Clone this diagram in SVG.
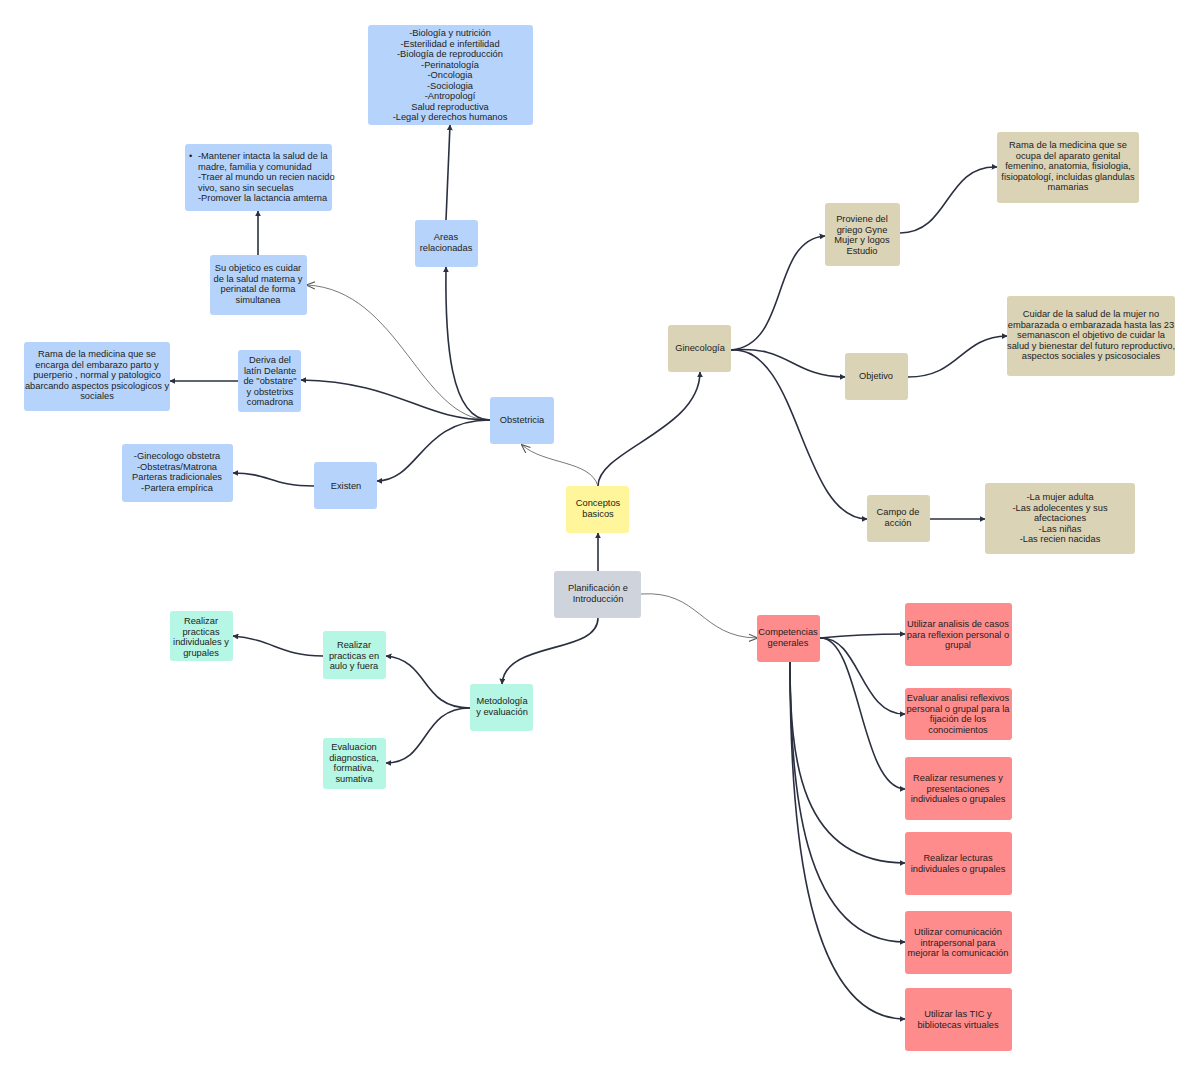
<svg xmlns="http://www.w3.org/2000/svg" width="1200" height="1076" viewBox="0 0 1200 1076">
<style>
text{font-family:"Liberation Sans",Arial,sans-serif;font-size:9.3px;fill:#222;text-anchor:middle}
.l{text-anchor:start}
.b{fill:#b6d4fb}.t{fill:#dbd3b5}.y{fill:#fff59a}.g{fill:#cfd4dc}.c{fill:#b6f6e4}.r{fill:#ff8c8c}
rect{rx:3}
.e{fill:none;stroke:#2b3040;stroke-width:1.6;marker-end:url(#a)}
.f{fill:none;stroke:#555;stroke-width:0.8;marker-end:url(#a2)}
</style>
<defs>
<marker id="a" viewBox="0 0 10 10" refX="9" refY="5" markerWidth="6" markerHeight="6" orient="auto-start-reverse" markerUnits="userSpaceOnUse"><path d="M0,0L10,5L0,10z" fill="#2b3040"/></marker>
<marker id="a2" viewBox="0 0 10 10" refX="9" refY="5" markerWidth="9" markerHeight="9" orient="auto" markerUnits="userSpaceOnUse"><path d="M0,1L10,5L0,9" fill="none" stroke="#555" stroke-width="1.2"/></marker>
</defs>
<rect width="1200" height="1076" fill="#fff" rx="0"/>
<g id="connectors">
<path class="e" d="M598,486C598,450 700,430 700,372"/>
<path class="f" d="M598,486C590,460 545,465 522,445"/>
<path class="e" d="M598,571L598,533"/>
<path class="f" d="M641,594C700,590 700,637 757,638"/>
<path class="e" d="M598,618C598,655 505,640 502,684"/>
<path class="e" d="M490,420C450,420 445,340 446,267"/>
<path class="e" d="M446,220L450,125"/>
<path class="f" d="M490,420C420,420 400,290 307,285"/>
<path class="e" d="M258,255L258,211"/>
<path class="e" d="M490,420C420,420 400,382 301,380"/>
<path class="e" d="M238,381L170,381"/>
<path class="e" d="M490,420C420,420 420,480 377,481"/>
<path class="e" d="M314,486C270,486 270,473 233,473"/>
<path class="e" d="M731,350C790,345 770,240 825,236"/>
<path class="e" d="M900,233C950,233 945,165 997,167"/>
<path class="e" d="M731,350C790,345 790,376 845,377"/>
<path class="e" d="M908,377C960,377 960,337 1007,336"/>
<path class="e" d="M731,350C800,345 800,518 867,519"/>
<path class="e" d="M930,519L985,519"/>
<path class="e" d="M820,638C850,635 870,634 905,634"/>
<path class="e" d="M820,638C860,636 860,715 905,714"/>
<path class="e" d="M820,638C860,636 860,788 905,789"/>
<path class="e" d="M790,662C790,760 800,862 905,863"/>
<path class="e" d="M790,662C790,780 800,942 905,942"/>
<path class="e" d="M790,662C790,800 800,1019 905,1019"/>
<path class="e" d="M470,708C420,708 430,660 386,656"/>
<path class="e" d="M323,656C280,656 275,640 233,636"/>
<path class="e" d="M470,708C420,708 430,763 386,763"/>
</g>
<g id="bio"><rect class="b" x="368" y="25" width="165" height="100"/><text x="450" y="36">-Biología y nutrición</text><text x="450" y="46.5">-Esterilidad e infertilidad</text><text x="450" y="57">-Biología de reproducción</text><text x="450" y="67.5">-Perinatología</text><text x="450" y="78">-Oncologia</text><text x="450" y="88.5">-Sociologia</text><text x="450" y="99">-Antropologí</text><text x="450" y="109.5">Salud reproductiva</text><text x="450" y="120">-Legal y derechos humanos</text></g>
<g id="mantener"><rect class="b" x="185" y="144" width="147" height="67"/><text class="l" x="189" y="159">•</text><text class="l" x="198" y="159">-Mantener intacta la salud de la</text><text class="l" x="198" y="169.5">madre, familia y comunidad</text><text class="l" x="198" y="180">-Traer al mundo un recien nacido</text><text class="l" x="198" y="190.5">vivo, sano sin secuelas</text><text class="l" x="198" y="201">-Promover la lactancia amterna</text></g>
<g id="areas"><rect class="b" x="415" y="220" width="63" height="47"/><text x="446" y="240">Areas</text><text x="446" y="250.5">relacionadas</text></g>
<g id="suobj"><rect class="b" x="210" y="255" width="97" height="60"/><text x="258" y="271">Su objetico es cuidar</text><text x="258" y="281.5">de la salud materna y</text><text x="258" y="292">perinatal de forma</text><text x="258" y="302.5">simultanea</text></g>
<g id="ramaL"><rect class="b" x="24" y="342" width="146" height="69"/><text x="97" y="357">Rama de la medicina que se</text><text x="97" y="367.5">encarga del embarazo parto y</text><text x="97" y="378">puerperio , normal y patologico</text><text x="97" y="388.5">abarcando aspectos psicologicos y</text><text x="97" y="399">sociales</text></g>
<g id="deriva"><rect class="b" x="238" y="350" width="63" height="62"/><text x="270" y="363">Deriva del</text><text x="270" y="373.5">latín Delante</text><text x="270" y="384">de "obstatre"</text><text x="270" y="394.5">y obstetrixs</text><text x="270" y="405">comadrona</text></g>
<g id="gineco"><rect class="b" x="122" y="444" width="111" height="58"/><text x="177" y="459">-Ginecologo obstetra</text><text x="177" y="469.5">-Obstetras/Matrona</text><text x="177" y="480">Parteras tradicionales</text><text x="177" y="490.5">-Partera empírica</text></g>
<g id="existen"><rect class="b" x="314" y="462" width="63" height="47"/><text x="346" y="489">Existen</text></g>
<g id="obst"><rect class="b" x="490" y="397" width="64" height="47"/><text x="522" y="423">Obstetricia</text></g>
<g id="conceptos"><rect class="y" x="566" y="486" width="63" height="47"/><text x="598" y="506">Conceptos</text><text x="598" y="516.5">basicos</text></g>
<g id="gine"><rect class="t" x="668" y="325" width="63" height="47"/><text x="700" y="351">Ginecología</text></g>
<g id="proviene"><rect class="t" x="825" y="203" width="75" height="63"/><text x="862" y="222">Proviene del</text><text x="862" y="232.5">griego Gyne</text><text x="862" y="243">Mujer y logos</text><text x="862" y="253.5">Estudio</text></g>
<g id="ramaR"><rect class="t" x="997" y="132" width="142" height="71"/><text x="1068" y="148">Rama de la medicina que se</text><text x="1068" y="158.5">ocupa del aparato genital</text><text x="1068" y="169">femenino, anatomia, fisiologia,</text><text x="1068" y="179.5">fisiopatologí, incluidas glandulas</text><text x="1068" y="190">mamarias</text></g>
<g id="objetivo"><rect class="t" x="845" y="353" width="63" height="47"/><text x="876" y="379">Objetivo</text></g>
<g id="cuidar"><rect class="t" x="1007" y="296" width="168" height="80"/><text x="1091" y="317">Cuidar de la salud de la mujer no</text><text x="1091" y="327.5">embarazada o embarazada hasta las 23</text><text x="1091" y="338">semanascon el objetivo de cuidar la</text><text x="1091" y="348.5">salud y bienestar del futuro reproductivo,</text><text x="1091" y="359">aspectos sociales y psicosociales</text></g>
<g id="campo"><rect class="t" x="867" y="495" width="63" height="47"/><text x="898" y="515">Campo de</text><text x="898" y="525.5">acción</text></g>
<g id="mujer"><rect class="t" x="985" y="483" width="150" height="71"/><text x="1060" y="500">-La mujer adulta</text><text x="1060" y="510.5">-Las adolecentes y sus</text><text x="1060" y="521">afectaciones</text><text x="1060" y="531.5">-Las niñas</text><text x="1060" y="542">-Las recien nacidas</text></g>
<g id="plan"><rect class="g" x="554" y="571" width="87" height="47"/><text x="598" y="591">Planificación e</text><text x="598" y="601.5">Introducción</text></g>
<g id="comp"><rect class="r" x="757" y="615" width="63" height="47"/><text x="788" y="635">Competencias</text><text x="788" y="645.5">generales</text></g>
<g id="r1"><rect class="r" x="905" y="603" width="107" height="63"/><text x="958" y="627">Utilizar analisis de casos</text><text x="958" y="637.5">para reflexion personal o</text><text x="958" y="648">grupal</text></g>
<g id="r2"><rect class="r" x="905" y="688" width="107" height="52"/><text x="958" y="701">Evaluar analisi reflexivos</text><text x="958" y="711.5">personal o grupal para la</text><text x="958" y="722">fijación de los</text><text x="958" y="732.5">conocimientos</text></g>
<g id="r3"><rect class="r" x="905" y="757" width="107" height="63"/><text x="958" y="781">Realizar resumenes y</text><text x="958" y="791.5">presentaciones</text><text x="958" y="802">individuales o grupales</text></g>
<g id="r4"><rect class="r" x="905" y="832" width="107" height="63"/><text x="958" y="861">Realizar lecturas</text><text x="958" y="871.5">individuales o grupales</text></g>
<g id="r5"><rect class="r" x="905" y="911" width="107" height="63"/><text x="958" y="935">Utilizar comunicación</text><text x="958" y="945.5">intrapersonal para</text><text x="958" y="956">mejorar la comunicación</text></g>
<g id="r6"><rect class="r" x="905" y="988" width="107" height="63"/><text x="958" y="1017">Utilizar las TIC y</text><text x="958" y="1027.5">bibliotecas virtuales</text></g>
<g id="metod"><rect class="c" x="470" y="684" width="63" height="47"/><text x="502" y="704">Metodología</text><text x="502" y="714.5">y evaluación</text></g>
<g id="aula"><rect class="c" x="323" y="631" width="63" height="48"/><text x="354" y="648">Realizar</text><text x="354" y="658.5">practicas en</text><text x="354" y="669">aulo y fuera</text></g>
<g id="indiv"><rect class="c" x="170" y="611" width="63" height="50"/><text x="201" y="624">Realizar</text><text x="201" y="634.5">practicas</text><text x="201" y="645">individuales y</text><text x="201" y="655.5">grupales</text></g>
<g id="eval"><rect class="c" x="323" y="738" width="63" height="51"/><text x="354" y="750">Evaluacion</text><text x="354" y="760.5">diagnostica,</text><text x="354" y="771">formativa,</text><text x="354" y="781.5">sumativa</text></g>
</svg>
